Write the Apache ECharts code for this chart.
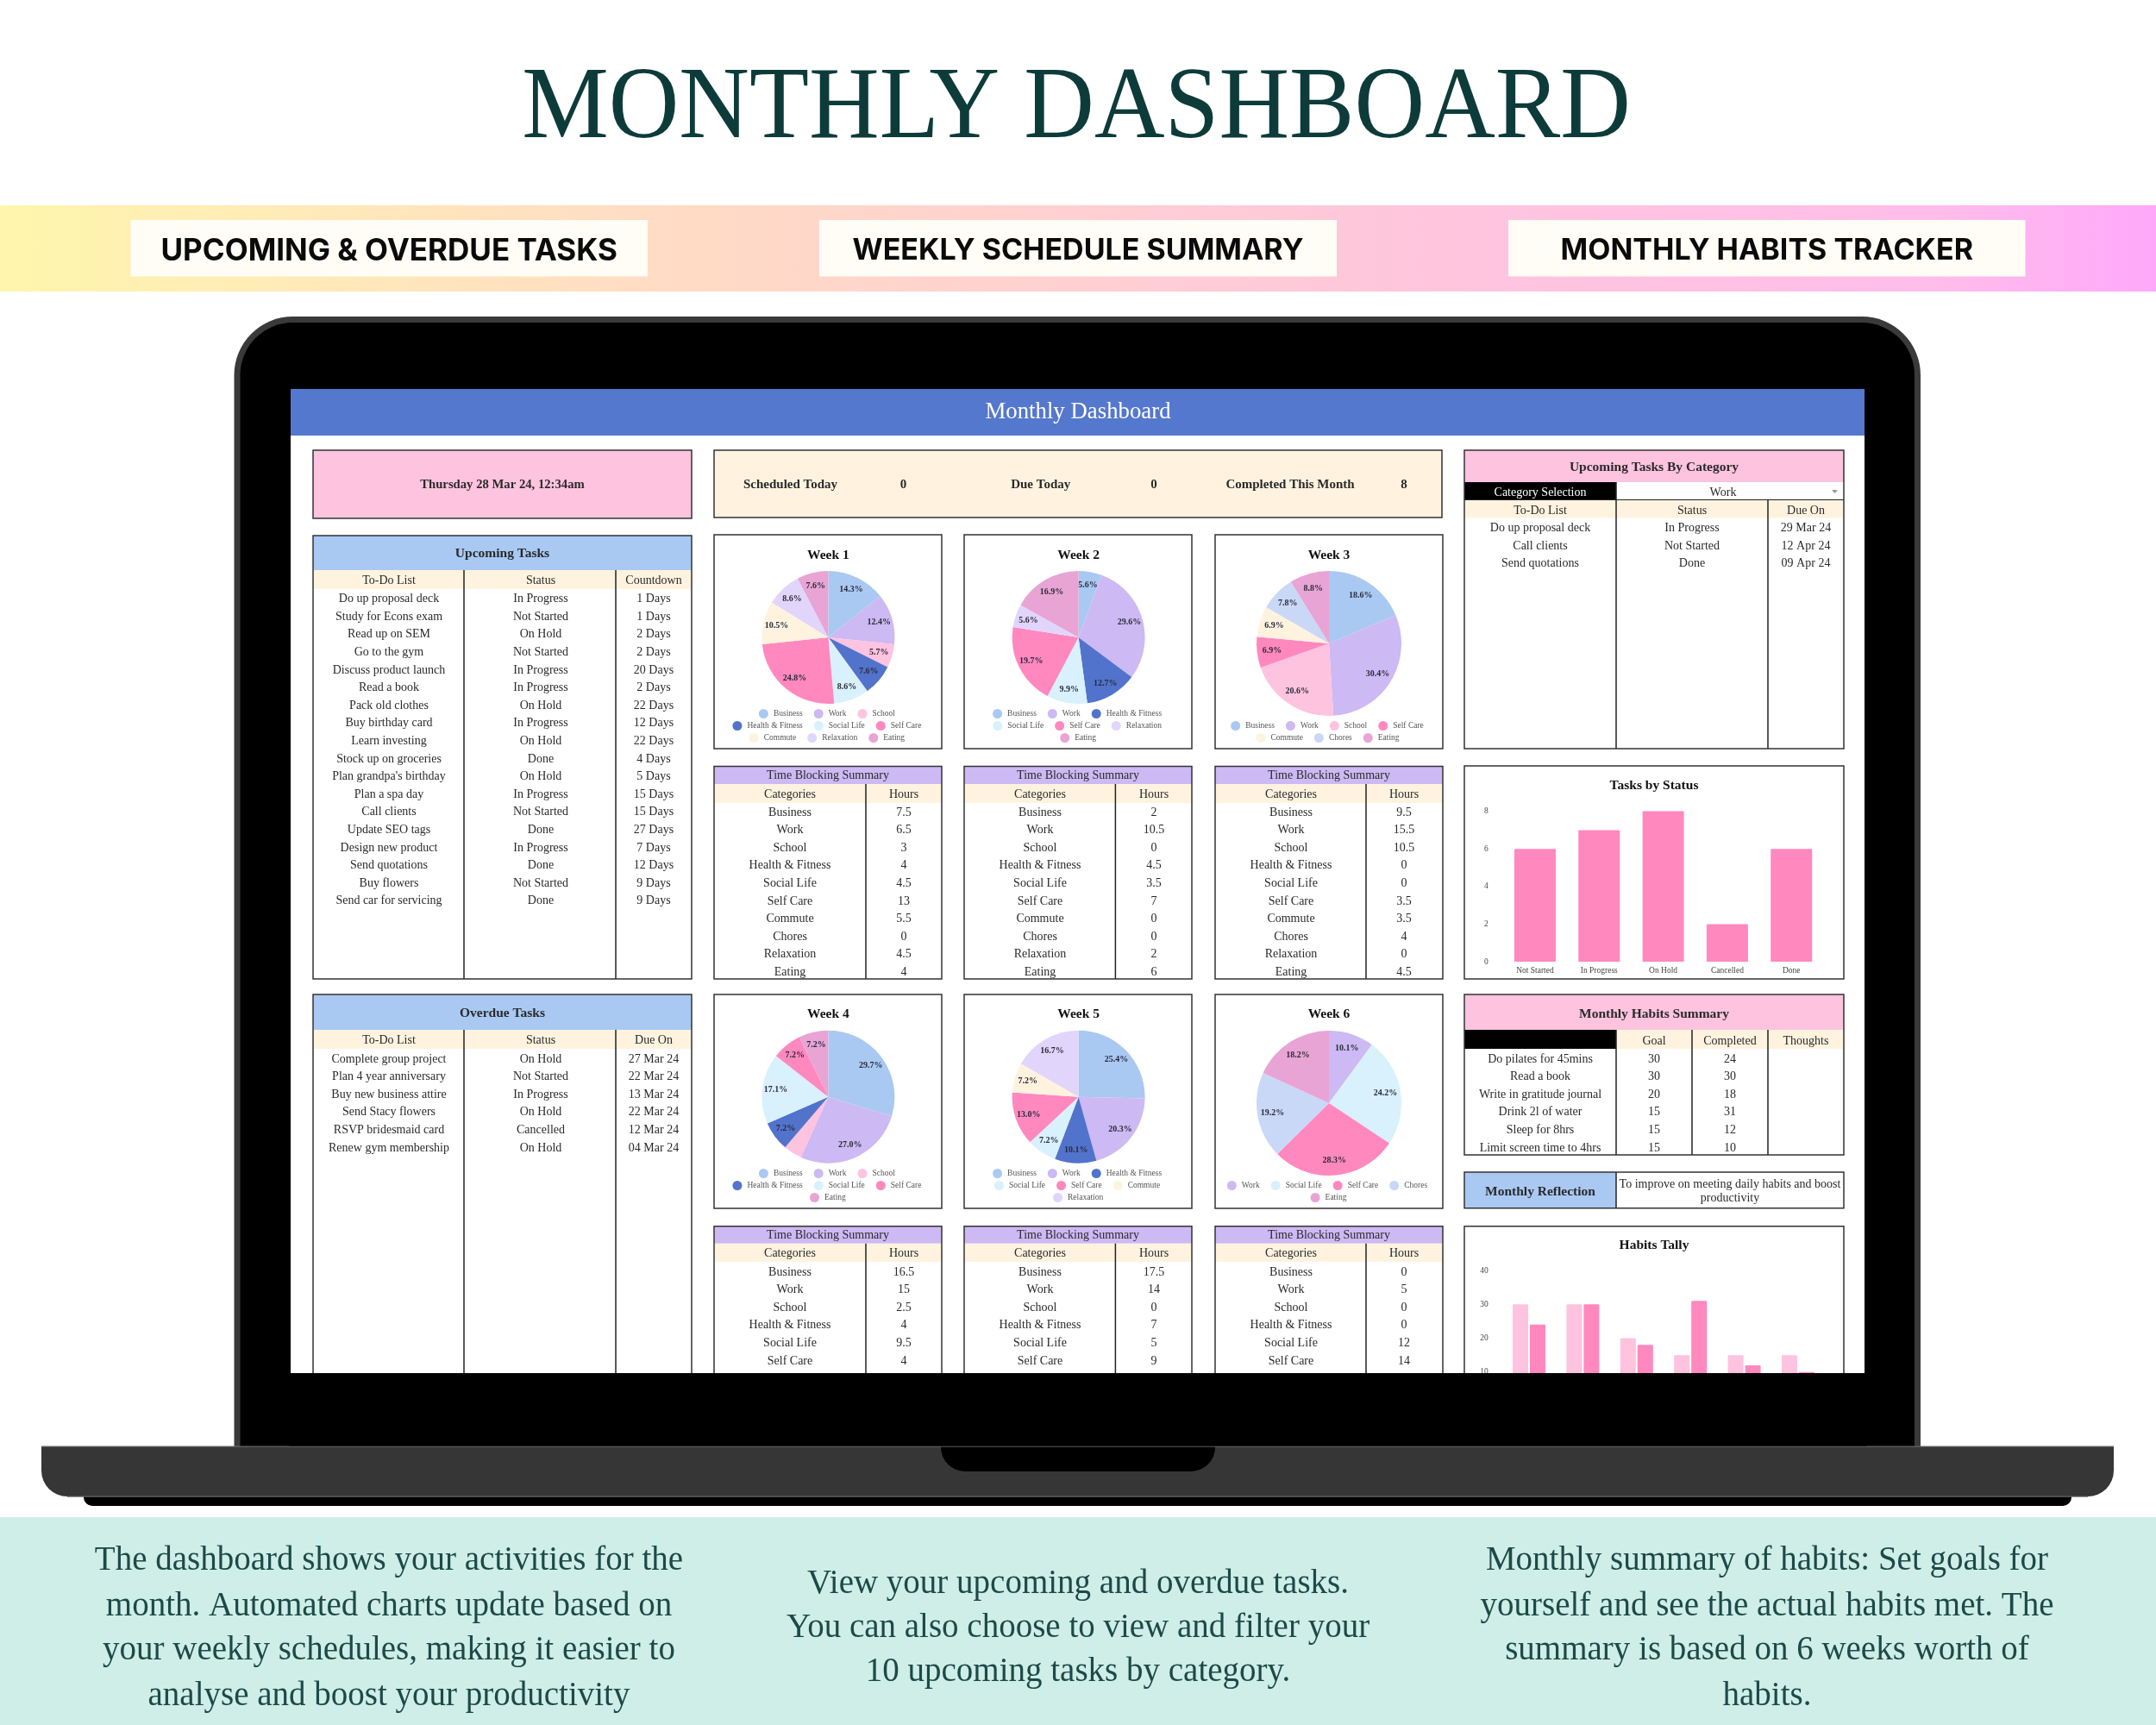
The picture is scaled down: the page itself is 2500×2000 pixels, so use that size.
<!DOCTYPE html>
<html><head><meta charset="utf-8">
<style>html,body{margin:0;padding:0;background:#fff}#c{width:2500px;height:2000px}</style>
<script src="https://cdn.jsdelivr.net/npm/echarts@6/dist/echarts.min.js"></script>
</head><body><div id="c"></div>
<script>
// ---------- data ----------
const categories = ['Business','Work','School','Health & Fitness','Social Life','Self Care','Commute','Chores','Relaxation','Eating'];
const week1 = [7.5,6.5,3,4,4.5,13,5.5,0,4.5,4];
const week2 = [2,10.5,0,4.5,3.5,7,0,0,2,6];
const week3 = [9.5,15.5,10.5,0,0,3.5,3.5,4,0,4.5];
const week4 = [16.5,15,2.5,4,9.5,4,0,0,0,4];
const week5 = [17.5,14,0,7,5,9,5,0,11.5,0];
const week6 = [0,5,0,0,12,14,0,9.5,0,9];
const weeks = [week1,week2,week3,week4,week5,week6];
const weekTitles = ['Week 1','Week 2','Week 3','Week 4','Week 5','Week 6'];
const legendRowSizes = [[3,3,3],[3,3,1],[4,3],[3,3,1],[3,3,1],[4,1]];
const categoryColors = ['#a9c9f3','#cdb9f3','#fdc3df','#5273cc','#d9f0fd','#ff88bf','#fff3e0','#c9d8f7','#e2d5fb','#e8a4d4'];

const upcomingTasks = ['Do up proposal deck','Study for Econs exam','Read up on SEM','Go to the gym','Discuss product launch','Read a book','Pack old clothes','Buy birthday card','Learn investing','Stock up on groceries',"Plan grandpa's birthday",'Plan a spa day','Call clients','Update SEO tags','Design new product','Send quotations','Buy flowers','Send car for servicing'];
const upcomingStatus = ['In Progress','Not Started','On Hold','Not Started','In Progress','In Progress','On Hold','In Progress','On Hold','Done','On Hold','In Progress','Not Started','Done','In Progress','Done','Not Started','Done'];
const upcomingCountdown = ['1 Days','1 Days','2 Days','2 Days','20 Days','2 Days','22 Days','12 Days','22 Days','4 Days','5 Days','15 Days','15 Days','27 Days','7 Days','12 Days','9 Days','9 Days'];
const overdueTasks = ['Complete group project','Plan 4 year anniversary','Buy new business attire','Send Stacy flowers','RSVP bridesmaid card','Renew gym membership'];
const overdueStatus = ['On Hold','Not Started','In Progress','On Hold','Cancelled','On Hold'];
const overdueDue = ['27 Mar 24','22 Mar 24','13 Mar 24','22 Mar 24','12 Mar 24','04 Mar 24'];
const workTasks = ['Do up proposal deck','Call clients','Send quotations'];
const workStatus = ['In Progress','Not Started','Done'];
const workDue = ['29 Mar 24','12 Apr 24','09 Apr 24'];
const statusNames = ['Not Started','In Progress','On Hold','Cancelled','Done'];
const statusCounts = [6,7,8,2,6];
const habits = ['Do pilates for 45mins','Read a book','Write in gratitude journal','Drink 2l of water','Sleep for 8hrs','Limit screen time to 4hrs'];
const habitGoal = [30,30,20,15,15,15];
const habitCompleted = [24,30,18,31,12,10];
const captions = [
 ['The dashboard shows your activities for the','month. Automated charts update based on','your weekly schedules, making it easier to','analyse and boost your productivity'],
 ['View your upcoming and overdue tasks.','You can also choose to view and filter your','10 upcoming tasks by category.'],
 ['Monthly summary of habits: Set goals for','yourself and see the actual habits met. The','summary is based on 6 weeks worth of','habits.']
];
const sectionTitles = ['UPCOMING & OVERDUE TASKS','WEEKLY SCHEDULE SUMMARY','MONTHLY HABITS TRACKER'];

// ---------- helpers ----------
const SERIF = '"Liberation Serif", serif';
const INK = '#2a2a2a';
const BODY = 14, HEAD = 15.5;
const els = [];
function R(x,y,w,h,fill,o){o=o||{};els.push({type:'rect',silent:true,z:o.z||0,shape:{x,y,width:w,height:h,r:o.r||0},style:{fill:fill,stroke:o.stroke||null,lineWidth:o.lw||0}});}
function B(x,y,w,h){R(x,y,w,h,'transparent',{stroke:'#333',lw:1.5});}
function L(x,y1,y2){els.push({type:'line',silent:true,z:0,shape:{x1:x,y1:y1,x2:x,y2:y2},style:{stroke:'#222',lineWidth:1.5}});}
function T(x,y,t,size,o){o=o||{};els.push({type:'text',silent:true,z:o.z||0,x:x,y:y+1,scaleX:o.sx||1,style:{text:t,fill:o.fill||INK,textAlign:o.align||'center',textVerticalAlign:'middle',font:(o.weight||'normal')+' '+size+'px '+(o.family||SERIF)}});}
const mc=document.createElement('canvas').getContext('2d');
function tw(t,font){mc.font=font;return mc.measureText(t).width;}

// page chrome
T(1248,127,'MONTHLY DASHBOARD',118,{fill:'#0d3b3a',sx:0.958});
els.push({type:'rect',silent:true,z:0,shape:{x:0,y:238,width:2500,height:100},style:{fill:{type:'linear',x:0,y:0,x2:1,y2:0,colorStops:[{offset:0,color:'#fff6ad'},{offset:.3,color:'#ffdcc4'},{offset:.65,color:'#ffc6dc'},{offset:.9,color:'#ffbdea'},{offset:1,color:'#ffa8fb'}]}}});
const sectionSizes=[35,34,34];
[[151.5,599.5],[950,600],[1749,599.5]].forEach((p,i)=>{R(p[0],255,p[1],65.5,'#fffdf6');T(p[0]+p[1]/2,290,sectionTitles[i],sectionSizes[i],{weight:'bold',family:'Inter, sans-serif',fill:'#0a0a0a'});});
// laptop
R(48,1677,2403,58,'#363636',{r:[0,0,30,30]});
R(97,1735,2305,11,'#000',{r:[0,0,10,10]});
R(271.5,367,1955.5,1310,'#3a3a3a',{r:[68,68,0,0]});
R(278.5,374,1941.5,1303,'#000',{r:[61,61,0,0]});
R(48,1676.5,2403,1.2,'#666');
R(78,1734.5,2343,1.2,'#666');
R(1091,1677.7,318,28.3,'#000',{r:[0,0,28,28]});
R(337,451,1825,1150,'#ffffff');
R(337,451,1825,54,'#5578cf');
T(1250,477,'Monthly Dashboard',26.8,{fill:'#fff'});
// bottom band
R(0,1759,2500,241,'#cfeee7');
const capX=[451,1250,2049], capY=[[1809,1862,1913,1966],[1836,1887,1938],[1809,1862,1913,1966]];
captions.forEach((c,i)=>c.forEach((t,j)=>T(capX[i],capY[i][j],t,39,{fill:'#1c4a48'})));

// date + counters
R(363,522,439,79,'#fdc3df');B(363,522,439,79);
T(582.5,561,'Thursday 28 Mar 24, 12:34am',14.7,{weight:'bold'});
R(828,522,844,78,'#fff3e0');B(828,522,844,78);
[[916.5,'Scheduled Today'],[1047.6,'0'],[1206.7,'Due Today'],[1338,'0'],[1496,'Completed This Month'],[1628,'8']].forEach(a=>T(a[0],561,a[1],15,{weight:'bold'}));

const ROW=20.6;
function table(o){
  R(o.x,o.y,o.w,o.hdrH,o.hdrFill);
  R(o.x,o.subY,o.w,o.subH,'#fff3e0');
  T(o.x+o.w/2,o.y+o.hdrH/2,o.title,HEAD,{weight:'bold'});
  o.cols.forEach(cx=>L(cx,o.subY,o.y+o.h));
  o.heads.forEach((h,i)=>T(o.cx[i],o.subY+o.subH/2,h,BODY));
  o.rows.forEach((col,i)=>col.forEach((v,j)=>T(o.cx[i],o.rowY+j*ROW,String(v),BODY)));
  B(o.x,o.y,o.w,o.h);
}
table({x:363,w:439,y:621,h:514,hdrH:40,title:'Upcoming Tasks',hdrFill:'#a9c9f3',subY:661,subH:22,cols:[538,714],cx:[451,627,758],heads:['To-Do List','Status','Countdown'],rows:[upcomingTasks,upcomingStatus,upcomingCountdown],rowY:693.6});
table({x:363,w:439,y:1153,h:450,hdrH:41,title:'Overdue Tasks',hdrFill:'#a9c9f3',subY:1194,subH:22,cols:[538,714],cx:[451,627,758],heads:['To-Do List','Status','Due On'],rows:[overdueTasks,overdueStatus,overdueDue],rowY:1227});

// upcoming by category
R(1698,522,440,37,'#fdc3df');
T(1918,541,'Upcoming Tasks By Category',HEAD,{weight:'bold'});
R(1698,559,176,20.5,'#000');
T(1786,570,'Category Selection',BODY,{fill:'#fff'});
T(1998,570,'Work',BODY);
els.push({type:'polygon',silent:true,z:0,shape:{points:[[2124,568],[2131,568],[2127.5,572]]},style:{fill:'#999'}});
R(1698,579.5,440,21,'#fff3e0');
[['To-Do List',1786],['Status',1962],['Due On',2094]].forEach(a=>T(a[1],591,a[0],BODY));
[workTasks,workStatus,workDue].forEach((c,i)=>c.forEach((v,j)=>T([1786,1962,2094][i],611.6+j*ROW,v,BODY)));
L(1874,559,868);L(2050,579.5,868);
els.push({type:'line',silent:true,z:0,shape:{x1:1698,y1:579.5,x2:2138,y2:579.5},style:{stroke:'#222',lineWidth:1}});
B(1698,522,440,346);

// habits summary
R(1698,1153,440,41,'#fdc3df');
T(1918,1175,'Monthly Habits Summary',HEAD,{weight:'bold'});
R(1698,1194,176,22,'#000');
R(1874,1194,264,22,'#fff3e0');
[['Goal',1918],['Completed',2006],['Thoughts',2094]].forEach(a=>T(a[1],1206,a[0],BODY));
[habits,habitGoal,habitCompleted].forEach((c,i)=>c.forEach((v,j)=>T([1786,1918,2006][i],1227+j*ROW,String(v),BODY)));
L(1874,1194,1339);L(1962,1194,1339);L(2050,1194,1339);
B(1698,1153,440,186);
// reflection
R(1698,1359,176,41.7,'#a9c9f3');
T(1786,1381,'Monthly Reflection',HEAD,{weight:'bold'});
T(2006,1372,'To improve on meeting daily habits and boost',BODY);
T(2006,1388,'productivity',BODY);
L(1874,1359,1400.7);B(1698,1359,440,41.7);

// week panels
const colX=[828,1118,1409], pieX=[960.4,1250.6,1541], colLine=[1004,1293.4,1584], hoursX=[1048,1338,1628];
const pieTop=[620,620,620,1153,1153,1153], pieH=248;
const titleY=[643,643,643,1175,1175,1175];
const pieCy=[739,739,746,1271.7,1271.7,1279], pieR=[77,77,84,77,77,84];
const legY=[[828,842,856],[828,842,856],[842,856],[1361,1375,1389],[1361,1375,1389],[1375,1389]];
const tblTop=[888.5,888.5,888.5,1421.7,1421.7,1421.7];
const series=[], legends=[];
const LEGFONT='normal 9.5px '+SERIF, LEG_ICON=13, LEG_GAP=13;
weeks.forEach((w,k)=>{
  const c=k%3, x=colX[c];
  B(x,pieTop[k],264,pieH);
  T(pieX[c],titleY[k],weekTitles[k],HEAD,{weight:'bold',fill:'#111'});
  // table
  const ty=tblTop[k];
  const isTop=k<3, hdr=isTop?20.5:20, sub=isTop?22:21.3, rowY=isTop?941:1474;
  R(x,ty,264,hdr,'#cdb9f3');
  R(x,ty+hdr,264,sub,'#fff3e0');
  T(x+132,ty+hdr/2,'Time Blocking Summary',BODY);
  T(colX[c]+88,ty+hdr+sub/2,'Categories',BODY);
  T(hoursX[c],ty+hdr+sub/2,'Hours',BODY);
  categories.forEach((n,j)=>{T(colX[c]+88,rowY+j*ROW,n,BODY);T(hoursX[c],rowY+j*ROW,String(w[j]),BODY);});
  L(colLine[c],ty+hdr,isTop?1135:1600);
  B(x,ty,264,(isTop?1135:1610)-ty);
  // pie
  const cx=pieX[c], cy=pieCy[k];
  const total=w.reduce((a,b)=>a+b,0);
  const nonzero=categories.map((n,i)=>({name:n,value:w[i],itemStyle:{color:categoryColors[i]}})).filter(d=>d.value>0);
  series.push({type:'pie',silent:true,animation:false,center:[cx,cy],radius:pieR[k],startAngle:90,clockwise:true,avoidLabelOverlap:false,data:nonzero,
    label:{show:true,position:'inside',fontFamily:SERIF,fontSize:10,fontWeight:'bold',color:'#2b2b3a',formatter:p=>{const v=p.value/total*100;return v>=5?v.toFixed(1)+'%':'';}},
    labelLine:{show:false},
    labelLayout:p=>{const lx=p.labelRect.x+p.labelRect.width/2, ly=p.labelRect.y+p.labelRect.height/2;return{dx:(lx-cx)*0.48,dy:(ly-cy)*0.48};}
  });
  // legend rows
  let idx=0;
  legendRowSizes[k].forEach((n,r)=>{
    const names=nonzero.slice(idx,idx+n).map(d=>d.name); idx+=n;
    const width=names.reduce((s,t)=>s+LEG_ICON+5+tw(t,LEGFONT),0)+LEG_GAP*(names.length-1);
    legends.push({data:names,left:cx-width/2,top:legY[k][r]-6,padding:0,itemWidth:LEG_ICON,itemHeight:11,itemGap:LEG_GAP,icon:'circle',selectedMode:false,textStyle:{fontFamily:SERIF,fontSize:9.5,color:'#555'}});
  });
});

// bar chart frames
B(1698,888,440,247);
T(1918,910,'Tasks by Status',HEAD,{weight:'bold',fill:'#111'});
B(1698,1421.7,440,190);
T(1918,1442.7,'Habits Tally',HEAD,{weight:'bold',fill:'#111'});

// bezel over the cut-off screen bottom
R(335,1592,1829,84.5,'#000',{z:100});

const axisText={fontFamily:SERIF,fontSize:9.5,color:'#444'};
const grids=[
 {left:1742.8,width:371.6,top:940.6,height:174.4},
 {left:1741.8,width:374.4,top:1473,height:157}
];
const xAxes=[
 {gridIndex:0,type:'category',data:statusNames,axisLine:{show:false},axisTick:{show:false},axisLabel:Object.assign({margin:5},axisText)},
 {gridIndex:1,type:'category',data:habits,axisLine:{show:false},axisTick:{show:false},axisLabel:Object.assign({margin:5},axisText)}
];
const yAxes=[
 {gridIndex:0,type:'value',min:0,max:8,interval:2,axisLine:{show:false},axisTick:{show:false},splitLine:{show:false},axisLabel:Object.assign({margin:17},axisText)},
 {gridIndex:1,type:'value',min:0,max:40,interval:10,axisLine:{show:false},axisTick:{show:false},splitLine:{show:false},axisLabel:Object.assign({margin:16},axisText)}
];
series.push({type:'bar',silent:true,animation:false,xAxisIndex:0,yAxisIndex:0,barWidth:48,data:statusCounts,itemStyle:{color:'#ff88bf',borderRadius:[1,1,0,0]}});
series.push({type:'bar',name:'Goal',silent:true,animation:false,xAxisIndex:1,yAxisIndex:1,barWidth:18,barGap:'11%',data:habitGoal,itemStyle:{color:'#fdc3df',borderRadius:[1,1,0,0]}});
series.push({type:'bar',name:'Completed',silent:true,animation:false,xAxisIndex:1,yAxisIndex:1,barWidth:18,barGap:'11%',data:habitCompleted,itemStyle:{color:'#ff88bf',borderRadius:[1,1,0,0]}});

const chart=echarts.init(document.getElementById('c'),null,{width:2500,height:2000});
chart.setOption({animation:false,backgroundColor:'#fff',grid:grids,xAxis:xAxes,yAxis:yAxes,legend:legends,series:series,graphic:{elements:els}});
</script></body></html>
